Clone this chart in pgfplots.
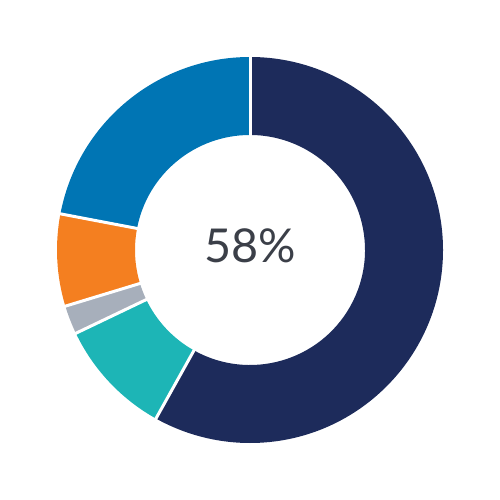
\documentclass[border=0pt]{standalone}
\usepackage{pgfplots}
\pgfplotsset{compat=1.18}
\usepackage{pgfplotstable}
\usepackage{fontspec}
\setmainfont{Lato}

\definecolor{cNavy}{HTML}{1D2B5B}
\definecolor{cTeal}{HTML}{1DB5B6}
\definecolor{cGray}{HTML}{A7AFBB}
\definecolor{cOrange}{HTML}{F47F20}
\definecolor{cBlue}{HTML}{0075B4}
\definecolor{textgray}{HTML}{3B3F48}

% share of each segment, clockwise from 12 o'clock
\pgfplotstableread{
label  value color
Navy   58.1  cNavy
Teal   9.8   cTeal
Gray   2.4   cGray
Orange 7.7   cOrange
Blue   22.0  cBlue
}\donut

\begin{document}
\begin{tikzpicture}
\begin{axis}[
    scale only axis,
    width=300pt, height=300pt,
    xmin=0, xmax=500, ymin=0, ymax=500,
    hide axis,
    clip=false
]
% keep the whole square as the page
\path (axis cs:0,0) rectangle (axis cs:500,500);
\pgfplotsextra{
  \def\ro{115.8pt}% outer radius (193 units)
  \def\ri{69pt}%    inner radius (115 units)
  \pgfplotstablegetrowsof{\donut}
  \pgfmathtruncatemacro\nrows{\pgfplotsretval-1}
  \xdef\cum{0}
  \foreach \i in {0,...,\nrows}{
    \pgfplotstablegetelem{\i}{value}\of\donut \let\v\pgfplotsretval
    \pgfplotstablegetelem{\i}{color}\of\donut \let\c\pgfplotsretval
    \pgfmathsetmacro\a{90-3.6*\cum}
    \pgfmathsetmacro\b{90-3.6*(\cum+\v)}
    \fill[fill=\c] ([shift={(\a:\ro)}]axis cs:250,250)
      arc[start angle=\a, end angle=\b, radius=\ro]
      -- ([shift={(\b:\ri)}]axis cs:250,250)
      arc[start angle=\b, end angle=\a, radius=\ri] -- cycle;
    \pgfmathsetmacro\newcum{\cum+\v}
    \xdef\cum{\newcum}
  }
  % white gaps between segments
  \xdef\cum{0}
  \foreach \i in {0,...,\nrows}{
    \pgfplotstablegetelem{\i}{value}\of\donut \let\v\pgfplotsretval
    \pgfmathsetmacro\a{90-3.6*\cum}
    \draw[white, line width=1.8pt]
      ([shift={(\a:67pt)}]axis cs:250,250) -- ([shift={(\a:118pt)}]axis cs:250,250);
    \pgfmathsetmacro\newcum{\cum+\v}
    \xdef\cum{\newcum}
  }
}
\node[anchor=base, text=textgray, font=\fontsize{28}{30}\selectfont]
  at (axis cs:250,237) {58\%};
\end{axis}
\end{tikzpicture}
\end{document}
